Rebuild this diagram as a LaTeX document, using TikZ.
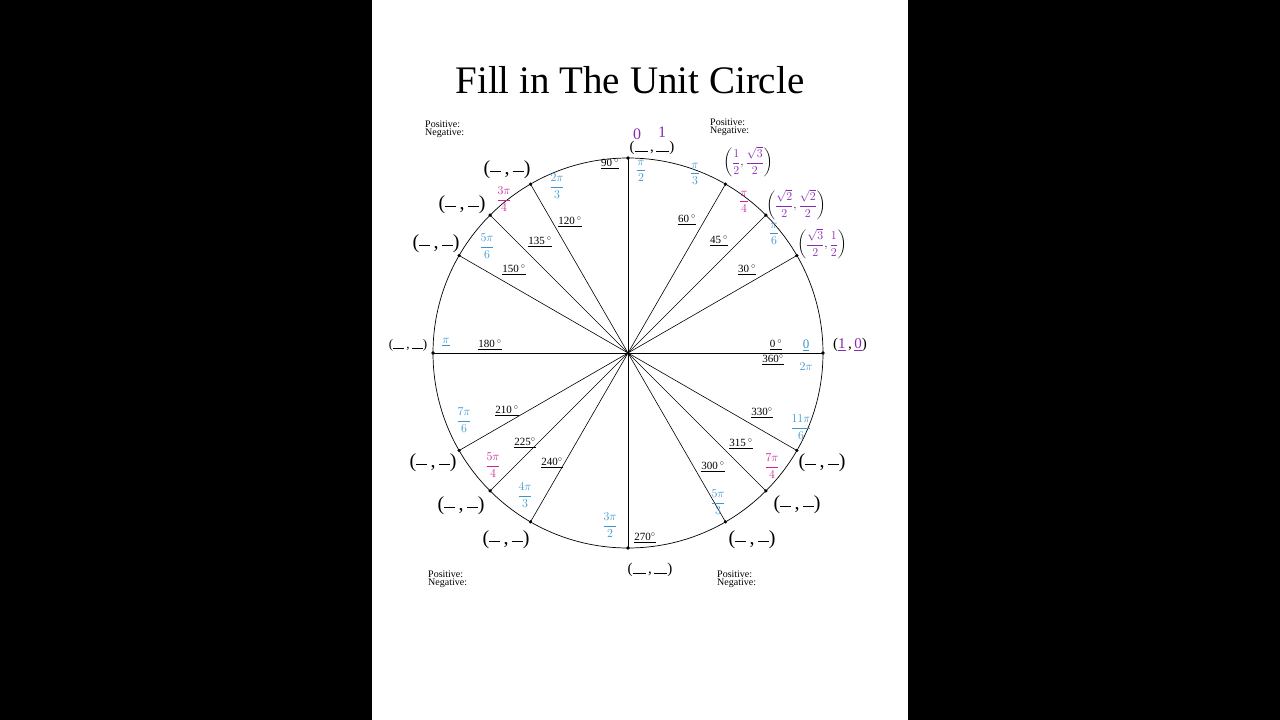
\documentclass[tikz,border=0pt]{standalone}
\usepackage{fontspec}
\setmainfont{Liberation Serif}
\usepackage{amsmath}
\usetikzlibrary{calc}
\definecolor{blu}{RGB}{60,150,205}
\definecolor{mag}{RGB}{205,35,150}
\definecolor{purp}{RGB}{135,40,185}
\newcommand{\bl}{\rule[0.3ex]{11pt}{0.6pt}}
\newcommand{\blk}{{\fontsize{20}{22}\selectfont(\bl\,,\,\bl)}}
\newcommand{\ubl}{{\fontsize{15}{17}\selectfont(\rule{13pt}{0.6pt}\,,\,\rule{13pt}{0.6pt})}}
\begin{document}
\begin{tikzpicture}[x=1pt,y=-1pt,
  deg/.style={font=\fontsize{11}{12}\selectfont},
  rad/.style={text=blu,font=\fontsize{13}{14}\selectfont},
  radm/.style={text=mag,font=\fontsize{13}{14}\selectfont},
  crd/.style={inner sep=0pt,font=\fontsize{12}{14}\selectfont},
  pn/.style={font=\fontsize{10}{10}\selectfont,align=left,inner sep=0pt,anchor=north west}]
\useasboundingbox (0,0) rectangle (1280,720);
\fill[black] (0,0) rectangle (372,720);
\fill[black] (908,0) rectangle (1280,720);
\fill[white] (372,0) rectangle (908,720);
\node[font=\fontsize{39}{41}\selectfont] (title) at (630,80) {Fill in The Unit Circle};
\coordinate (c) at (628,353);
\draw[line width=0.7pt] (c) circle (195);
\foreach \a in {0,30,45,60,90,120,135,150,180,210,225,240,270,300,315,330}{
  \coordinate (p\a) at ($(c)+(-\a:195)$);
  \draw[line width=0.6pt] (c) -- (p\a);
  \fill (p\a) circle (1.8);
}
% degree labels
\node[deg] (d90) at (610,164) {\underline{90\,$^\circ$}};
\node[deg] (d60) at (687,220) {\underline{60\,$^\circ$}};
\node[deg] (d45) at (719,241) {\underline{45\,$^\circ$}};
\node[deg] (d30) at (747,270) {\underline{30\,$^\circ$}};
\node[deg] (d0) at (776,345) {\underline{0\,$^\circ$}};
\node[deg] (d360) at (773,360) {\underline{360$^\circ$}};
\node[deg] (d330) at (762,413) {\underline{330$^\circ$}};
\node[deg] (d315) at (741,444) {\underline{315\,$^\circ$}};
\node[deg] (d300) at (713,467) {\underline{300\,$^\circ$}};
\node[deg] (d270) at (645,538) {\underline{270$^\circ$}};
\node[deg] (d240) at (552,463) {\underline{240$^\circ$}};
\node[deg] (d225) at (525,443) {\underline{225$^\circ$}};
\node[deg] (d210) at (507,411) {\underline{210\,$^\circ$}};
\node[deg] (d180) at (490,345) {\underline{180\,$^\circ$}};
\node[deg] (d150) at (514,270) {\underline{150\,$^\circ$}};
\node[deg] (d135) at (540,242) {\underline{135\,$^\circ$}};
\node[deg] (d120) at (570,222) {\underline{120\,$^\circ$}};
% radians
\node[rad] (r90) at (641,171) {$\dfrac{\pi}{2}$};
\node[rad] (r60) at (695,174) {$\dfrac{\pi}{3}$};
\node[radm] (r45) at (744,202) {$\dfrac{\pi}{4}$};
\node[rad] (r30) at (774,234) {$\dfrac{\pi}{6}$};
\node[rad] (r0) at (806,345) {\underline{0}};
\node[rad] (r360) at (806,367) {$2\pi$};
\node[rad] (r330) at (801,427) {$\dfrac{11\pi}{6}$};
\node[radm] (r315) at (772,466) {$\dfrac{7\pi}{4}$};
\node[rad] (r300) at (718,502) {$\dfrac{5\pi}{3}$};
\node[rad] (r270) at (610,525) {$\dfrac{3\pi}{2}$};
\node[rad] (r240) at (525,495) {$\dfrac{4\pi}{3}$};
\node[radm] (r225) at (493,465) {$\dfrac{5\pi}{4}$};
\node[rad] (r210) at (464,420) {$\dfrac{7\pi}{6}$};
\node[rad] (r180) at (446,342) {\underline{$\pi$}};
\node[rad] (r150) at (487,246) {$\dfrac{5\pi}{6}$};
\node[radm] (r135) at (504,199) {$\dfrac{3\pi}{4}$};
\node[rad] (r120) at (557,186) {$\dfrac{2\pi}{3}$};
% coordinates
\node (c90) at (652,148) {\ubl};
\node[text=purp,font=\fontsize{16}{16}\selectfont] (x90) at (637,134) {0};
\node[text=purp,font=\fontsize{16}{16}\selectfont] (y90) at (662,132) {1};
\node (c0) at (850,345) {\fontsize{15}{17}\selectfont(\textcolor{purp}{\underline{1}}\,,\,\textcolor{purp}{\underline{0}})};
\node[crd] (c60) at (748,162) {$\biggl(\textcolor{purp}{\dfrac{1}{2}},\textcolor{purp}{\dfrac{\sqrt3}{2}}\biggr)$};
\node[crd] (c45) at (796,205) {$\biggl(\textcolor{purp}{\dfrac{\sqrt2}{2}},\textcolor{purp}{\dfrac{\sqrt2}{2}}\biggr)$};
\node[crd] (c30) at (822,244) {$\biggl(\textcolor{purp}{\dfrac{\sqrt3}{2}},\textcolor{purp}{\dfrac{1}{2}}\biggr)$};
\node (c120) at (507,170) {\blk};
\node (c135) at (462,205) {\blk};
\node (c150) at (436,244) {\blk};
\node (c180) at (408,345) {\fontsize{13}{15}\selectfont(\rule{11pt}{0.6pt}\,,\,\rule{11pt}{0.6pt})};
\node (c210) at (433,463) {\blk};
\node (c225) at (461,506) {\blk};
\node (c240) at (506,540) {\blk};
\node (c270) at (650,570) {\ubl};
\node (c300) at (752,540) {\blk};
\node (c315) at (797,505) {\blk};
\node (c330) at (822,463) {\blk};
% positive/negative
\node[pn] (q2) at (425,121) {Positive:\\[-2pt]Negative:};
\node[pn] (q1) at (710,119) {Positive:\\[-2pt]Negative:};
\node[pn] (q3) at (428,571) {Positive:\\[-2pt]Negative:};
\node[pn] (q4) at (717,571) {Positive:\\[-2pt]Negative:};
\end{tikzpicture}
\end{document}
